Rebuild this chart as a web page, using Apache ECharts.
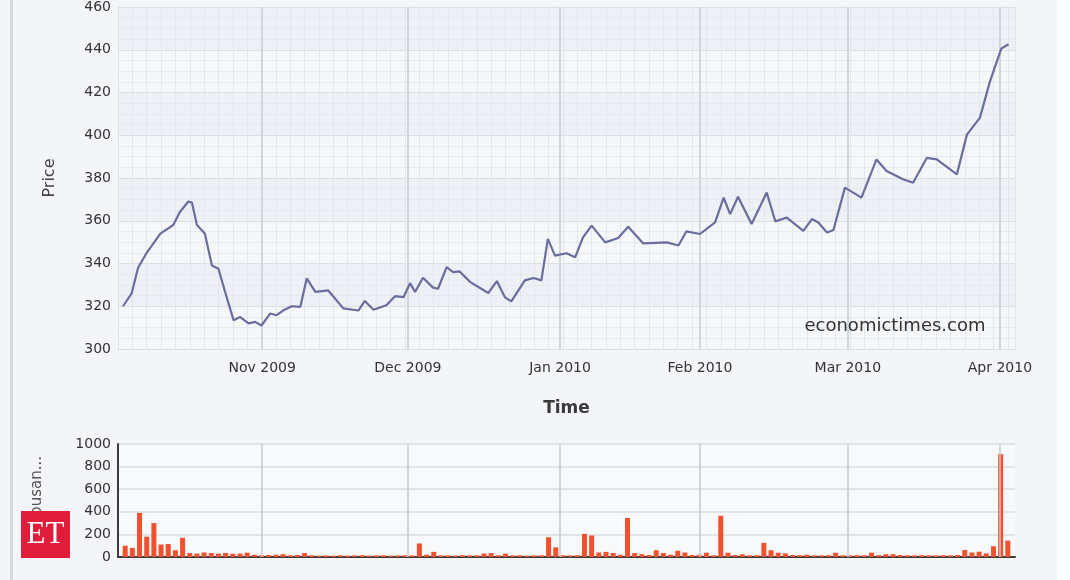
<!DOCTYPE html>
<html><head><meta charset="utf-8">
<script src="https://cdn.jsdelivr.net/npm/echarts@6/dist/echarts.min.js"></script>
<style>html,body{margin:0;padding:0;background:#f3f5f8;}#c{width:1070px;height:580px;}</style>
</head><body><div id="c"></div>
<script>
// x positions are trading-day index positions along the time axis
const priceX = [0.7,1.9,2.8,4.0,5.9,7.7,8.6,9.8,10.3,11.0,
  12.1,13.1,14.0,14.9,16.1,17.0,18.2,19.1,20.0,21.2,
  22.1,23.0,24.2,25.4,26.3,27.5,29.3,31.4,33.5,34.4,
  35.6,37.4,38.6,39.8,40.7,41.4,42.5,43.9,44.6,45.8,
  46.7,47.6,49.1,51.6,52.8,53.9,54.8,56.7,57.9,59.0,
  59.9,60.9,62.5,63.7,64.8,66.0,67.9,69.7,71.1,73.2,
  76.5,78.1,79.2,81.1,82.3,83.2,84.4,85.3,86.4,88.3,
  90.4,91.6,93.2,95.5,96.7,97.6,98.8,99.7,101.3,103.6,
  105.7,107.1,109.4,110.8,112.7,114.1,116.9,118.3,120.1,121.5,
  123.1,124.1];
const priceY = [320,326,338,345,354,358,364,369,368.5,358,
  354,339,337.5,327,313.5,315,312,312.7,311,316.6,
  315.8,318,320,319.7,333,326.7,327.4,319,318,322.5,
  318.4,320.5,324.7,324.3,330.8,326.7,333.3,328.7,328.2,338.3,
  336,336.3,331.3,326.2,331.8,324.3,322.3,332.1,333.2,332.1,
  351.5,343.7,344.8,342.9,352.2,357.7,349.9,351.9,357.2,349.4,
  349.9,348.4,355,353.8,356.9,359.2,370.8,363.1,371.2,358.5,
  373.2,359.7,361.5,355.3,360.8,359.2,354.5,355.7,375.5,370.8,
  388.7,383.3,379.4,377.8,389.4,388.7,381.7,400.3,408.1,425.1,
  440.6,442.6];
const volume = [0,100,80,390,180,300,110,115,60,170,
  35,30,40,35,30,35,28,30,38,20,
  15,18,20,25,15,18,35,15,12,14,
  12,15,12,14,16,12,14,15,12,14,
  15,14,120,20,45,15,14,12,16,14,
  15,30,35,15,30,14,15,12,14,15,
  175,85,15,14,16,205,190,40,45,35,
  20,345,35,25,18,60,35,20,55,40,
  18,20,38,15,365,38,18,24,15,16,
  125,60,38,32,18,16,20,14,15,16,
  38,15,14,16,15,38,16,25,25,18,
  15,14,16,15,14,16,15,18,62,40,
  47,32,95,910,145];
const monthTicks = [20.1, 40.4, 61.6, 81.1, 101.7, 122.9];
const monthLabels = ['Nov 2009','Dec 2009','Jan 2010','Feb 2010','Mar 2010','Apr 2010'];

const FONT = 'DejaVu Sans';
const chart = echarts.init(document.getElementById('c'), null, {renderer:'canvas'});
const monthLines = (color, width) => ({
  silent: true, symbol: 'none', label: {show: false},
  lineStyle: {color: color, width: width, type: 'solid'},
  data: monthTicks.map(v => ({xAxis: v}))
});
chart.setOption({
  animation: false,
  backgroundColor: '#f3f5f8',
  grid: [
    {left: 118, right: 55, top: 5, height: 344, show: true, backgroundColor: '#f5f7f9', borderWidth: 0},
    {left: 118, right: 55, top: 444, height: 113, show: true, backgroundColor: '#f8f9fa', borderWidth: 0}
  ],
  xAxis: [
    {type: 'value', gridIndex: 0, min: 0, max: 125,
      name: 'Time', nameLocation: 'middle', nameGap: 51,
      nameTextStyle: {fontFamily: FONT, fontSize: 17, color: '#3a3a3a', fontWeight: 'bold'},
      axisLine: {show: false}, axisTick: {show: false}, splitLine: {show: false},
      axisLabel: {customValues: monthTicks, margin: 12, fontFamily: FONT, fontSize: 14, color: '#333',
        formatter: v => { const i = monthTicks.indexOf(v); return i >= 0 ? monthLabels[i] : ''; }}
    },
    {type: 'value', gridIndex: 0, min: 0, max: 125, interval: 2, position: 'bottom',
      axisLine: {show: false}, axisTick: {show: false}, axisLabel: {show: false},
      splitLine: {show: true, lineStyle: {color: '#e3e6eb', width: 1}}
    },
    {type: 'value', gridIndex: 1, min: 0, max: 125,
      axisLine: {show: true, lineStyle: {color: '#3c3c3c', width: 2}},
      axisTick: {show: false}, axisLabel: {show: false}, splitLine: {show: false}
    }
  ],
  yAxis: [
    {type: 'value', gridIndex: 0, min: 300, max: 460, interval: 20,
      name: 'Price', nameLocation: 'middle', nameGap: 60,
      nameTextStyle: {fontFamily: FONT, fontSize: 16, color: '#444'},
      axisLine: {show: true, lineStyle: {color: '#dde0e5'}}, axisTick: {show: false},
      axisLabel: {fontFamily: FONT, fontSize: 14, color: '#333', margin: 7},
      splitLine: {show: true, lineStyle: {color: '#dadde3', width: 1}},
      minorTick: {show: false, splitNumber: 4},
      minorSplitLine: {show: true, lineStyle: {color: '#e6e9ed', width: 1}},
      splitArea: {show: true, areaStyle: {color: ['rgba(0,0,0,0)', 'rgba(205,210,220,0.18)']}}
    },
    {type: 'value', gridIndex: 1, min: 0, max: 1000, interval: 200,
      axisLine: {show: true, lineStyle: {color: '#3c3c3c', width: 2}}, axisTick: {show: false},
      axisLabel: {fontFamily: FONT, fontSize: 14, color: '#333', margin: 7, formatter: v => String(v)},
      splitLine: {show: true, lineStyle: {color: '#d8dbe0', width: 1.5}}
    }
  ],
  series: [
    {type: 'line', xAxisIndex: 0, yAxisIndex: 0, showSymbol: false, symbol: 'none',
      data: priceX.map((x, i) => [x, priceY[i]]),
      lineStyle: {color: '#6a6e9c', width: 2.2}, z: 5,
      markLine: monthLines('#d2d6dc', 2)
    },
    {type: 'bar', xAxisIndex: 2, yAxisIndex: 1, barWidth: 5,
      data: volume.map((v, i) => [i, v]),
      itemStyle: {color: '#f2512f'},
      markLine: monthLines('#c4c7cc', 1.5)
    }
  ],
  graphic: [
    {type: 'rect', left: 10, top: 0, shape: {width: 3, height: 580}, style: {fill: '#d6d9de'}, z: 10},
    {type: 'rect', left: 1057, top: 0, shape: {width: 13, height: 580}, style: {fill: '#fbfcfd'}, z: 10},
    {type: 'text', x: 895, y: 326, z: 20,
      style: {text: 'economictimes.com', font: '18px "DejaVu Sans"', fill: '#333',
        align: 'center', verticalAlign: 'middle', textAlign: 'center', textVerticalAlign: 'middle'}},
    {type: 'text', x: 37, y: 495, rotation: Math.PI / 2, z: 20,
      style: {text: 'Thousan...', font: '15px "DejaVu Sans"', fill: '#555',
        align: 'center', verticalAlign: 'middle', textAlign: 'center', textVerticalAlign: 'middle'}},
    {type: 'rect', left: 21, top: 511, shape: {width: 49, height: 47}, style: {fill: '#e11d3c'}, z: 30},
    {type: 'text', x: 45.5, y: 535, z: 31,
      style: {text: 'ET', font: '31px "Liberation Serif"', fill: '#ffffff',
        align: 'center', verticalAlign: 'middle', textAlign: 'center', textVerticalAlign: 'middle'}}
  ]
});
</script></body></html>
